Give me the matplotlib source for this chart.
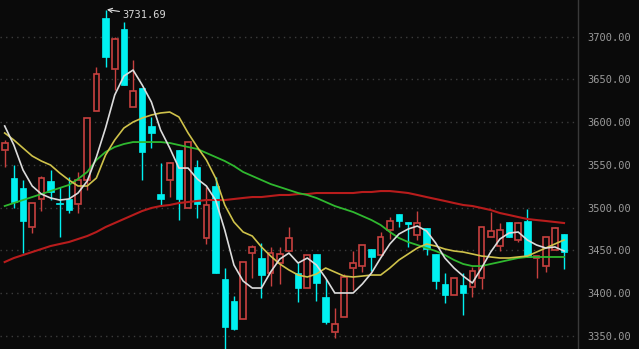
import matplotlib
matplotlib.use("Agg")
import matplotlib.pyplot as plt
import numpy as np

# OHLC (62 sessions)
opens = [3567.5, 3534.8, 3523.0, 3477.4, 3510.2, 3531.3, 3505.0, 3510.2, 3504.4, 3532.4,
         3613.1, 3721.8, 3662.2, 3709.0, 3617.8, 3640.0, 3595.6, 3516.0, 3532.4, 3567.5,
         3499.7, 3547.6, 3464.6, 3525.4, 3416.7, 3390.9, 3369.9, 3447.0, 3441.2, 3423.7,
         3435.4, 3449.4, 3423.7, 3406.1, 3445.9, 3395.6, 3354.7, 3372.2, 3429.5, 3431.8,
         3451.7, 3444.7, 3473.9, 3492.6, 3483.3, 3468.1, 3476.3, 3445.9, 3410.8, 3397.9,
         3409.6, 3407.3, 3417.8, 3465.8, 3455.2, 3483.3, 3462.3, 3484.5, 3441.2, 3431.8,
         3450.6, 3469.3]
highs = [3579.2, 3550.0, 3532.4, 3505.5, 3537.1, 3544.1, 3524.2, 3535.9, 3541.8, 3604.9,
         3664.5, 3731.69, 3699.6, 3717.2, 3672.7, 3640.0, 3606.1, 3552.3, 3553.5, 3567.5,
         3576.8, 3555.8, 3524.2, 3535.9, 3429.5, 3396.8, 3436.5, 3456.4, 3458.7, 3454.1,
         3454.1, 3477.4, 3435.4, 3444.7, 3445.9, 3416.7, 3382.7, 3422.5, 3449.4, 3456.4,
         3451.7, 3471.6, 3489.1, 3492.6, 3483.3, 3496.2, 3476.3, 3445.9, 3423.7, 3417.8,
         3423.7, 3430.7, 3477.4, 3495.0, 3482.1, 3483.3, 3483.3, 3498.5, 3443.5, 3465.8,
         3477.4, 3469.3]
lows = [3547.6, 3499.6, 3447.0, 3470.4, 3496.2, 3509.0, 3465.8, 3493.8, 3493.8, 3520.7,
        3613.1, 3664.5, 3637.7, 3643.5, 3617.8, 3532.4, 3569.8, 3503.2, 3512.5, 3485.6,
        3499.7, 3488.0, 3457.6, 3423.7, 3330.0, 3357.0, 3369.9, 3417.8, 3394.4, 3408.5,
        3410.8, 3449.4, 3389.8, 3406.1, 3390.9, 3364.0, 3347.6, 3372.2, 3403.8, 3424.8,
        3426.0, 3444.7, 3463.4, 3477.4, 3454.1, 3462.3, 3444.7, 3405.0, 3388.6, 3397.9,
        3374.5, 3395.6, 3405.0, 3465.8, 3449.4, 3465.8, 3459.9, 3442.4, 3417.8, 3424.8,
        3450.6, 3428.3]
closes = [3575.7, 3506.7, 3484.5, 3505.5, 3534.8, 3518.4, 3504.0, 3497.3, 3532.4, 3604.9,
          3656.4, 3676.3, 3697.3, 3643.5, 3636.5, 3565.2, 3587.4, 3510.2, 3552.3, 3510.2,
          3576.8, 3504.4, 3503.2, 3423.7, 3360.6, 3358.2, 3436.5, 3454.1, 3421.3, 3447.0,
          3445.9, 3464.6, 3406.1, 3444.7, 3412.0, 3366.4, 3364.0, 3419.0, 3435.4, 3456.4,
          3442.4, 3465.8, 3484.5, 3484.5, 3481.0, 3482.1, 3451.7, 3414.3, 3397.9, 3417.8,
          3400.3, 3426.0, 3477.4, 3472.8, 3473.9, 3465.8, 3482.1, 3442.4, 3443.5, 3465.8,
          3476.3, 3448.2]

# moving average lines
ma5 = [3595.6, 3573.3, 3544.1, 3525.4, 3516.0, 3511.4, 3509.0, 3510.2, 3517.2, 3531.2,
       3559.3, 3593.2, 3631.8, 3654.0, 3661.0, 3643.5, 3623.6, 3590.9, 3569.8, 3546.4,
       3546.4, 3533.6, 3525.4, 3509.0, 3473.9, 3433.0, 3414.3, 3406.1, 3406.1, 3424.8,
       3440.0, 3447.0, 3435.3, 3441.2, 3433.0, 3417.8, 3400.3, 3400.3, 3400.3, 3410.8,
       3423.7, 3441.2, 3457.6, 3469.3, 3475.1, 3478.6, 3472.8, 3458.7, 3441.2, 3429.5,
       3420.1, 3412.0, 3429.5, 3448.2, 3463.4, 3470.4, 3471.6, 3462.2, 3456.4, 3452.9,
       3454.1, 3449.4]
ma10 = [3587.4, 3579.2, 3569.8, 3560.5, 3554.6, 3549.9, 3540.6, 3532.4, 3525.4, 3525.4,
        3534.7, 3561.6, 3579.2, 3593.2, 3600.2, 3604.9, 3608.4, 3610.8, 3611.9, 3606.1,
        3587.4, 3571.0, 3555.8, 3534.7, 3503.2, 3483.3, 3471.6, 3466.9, 3454.1, 3443.5,
        3434.2, 3427.2, 3421.3, 3419.0, 3422.5, 3429.5, 3424.8, 3420.1, 3419.0, 3420.1,
        3421.3, 3421.3, 3429.5, 3438.9, 3445.9, 3452.9, 3457.6, 3455.2, 3451.7, 3449.4,
        3448.2, 3445.9, 3443.5, 3442.4, 3441.2, 3441.2, 3442.4, 3443.5, 3448.2, 3452.9,
        3457.6, 3462.3]
ma20 = [3502.0, 3505.5, 3509.0, 3512.5, 3516.0, 3519.5, 3523.1, 3526.6, 3533.6, 3541.8,
        3555.8, 3565.2, 3571.0, 3574.5, 3576.8, 3576.8, 3576.8, 3576.8, 3575.7, 3573.3,
        3571.0, 3568.7, 3564.0, 3559.3, 3554.6, 3548.8, 3541.8, 3537.1, 3532.4, 3527.7,
        3524.2, 3520.7, 3517.2, 3514.9, 3511.4, 3506.7, 3502.0, 3498.5, 3495.0, 3490.3,
        3485.6, 3479.8, 3471.6, 3464.6, 3459.9, 3456.4, 3452.9, 3449.4, 3444.7, 3438.9,
        3434.2, 3431.8, 3431.8, 3434.2, 3436.5, 3438.9, 3441.2, 3442.4, 3442.4, 3442.4,
        3442.4, 3442.4]
ma60 = [3436.5, 3441.2, 3444.7, 3448.2, 3451.7, 3455.2, 3457.6, 3459.9, 3463.4, 3466.9,
        3471.6, 3477.4, 3482.1, 3486.8, 3491.5, 3496.2, 3499.7, 3502.0, 3503.2, 3505.5,
        3506.7, 3507.9, 3509.0, 3509.0, 3509.0, 3510.2, 3511.4, 3512.5, 3512.5, 3513.7,
        3514.9, 3514.9, 3516.0, 3516.0, 3517.2, 3517.2, 3517.2, 3517.2, 3517.2, 3518.4,
        3518.4, 3519.5, 3519.5, 3518.4, 3517.2, 3514.9, 3512.5, 3510.2, 3507.9, 3505.5,
        3503.2, 3502.0, 3499.7, 3497.3, 3493.8, 3491.5, 3489.1, 3486.8, 3485.6, 3484.5,
        3483.3, 3482.1]

price_ticks = [3350, 3400, 3450, 3500, 3550, 3600, 3650, 3700]

BG = "#0a0a0a"
UP = "#c8413f"
DOWN = "#00f0f0"

fig = plt.figure(figsize=(6.39, 3.49), dpi=100, facecolor=BG)
ax = fig.add_axes([0, 0, 578 / 639, 1], facecolor=BG)

o = np.array(opens)
h = np.array(highs)
l = np.array(lows)
c = np.array(closes)
x = np.arange(len(o))
up = c >= o
bot = np.minimum(o, c)
top = np.maximum(o, c)
hgt = np.maximum(top - bot, 1.0)

# wicks
ax.vlines(x[~up], l[~up], h[~up], color=DOWN, lw=1, zorder=2)
ax.vlines(x[up], top[up], h[up], color=UP, lw=1, zorder=2)
ax.vlines(x[up], l[up], bot[up], color=UP, lw=1, zorder=2)
# bodies: filled cyan for down days, hollow red for up days
ax.bar(x[~up], hgt[~up], bottom=bot[~up], width=0.7, color=DOWN,
       edgecolor=DOWN, lw=0.5, zorder=3)
ax.bar(x[up], hgt[up], bottom=bot[up], width=0.62, facecolor=BG,
       edgecolor=UP, lw=1.2, zorder=3)

# moving averages
ax.plot(x, ma60, color="#b81c1c", lw=1.5, zorder=4)
ax.plot(x, ma20, color="#2fb82f", lw=1.3, zorder=4)
ax.plot(x, ma10, color="#cfc24a", lw=1.2, zorder=4)
ax.plot(x, ma5, color="#dcdcdc", lw=1.2, zorder=4)

# highest price marker
pk = int(np.argmax(h))
ax.annotate(f"{h[pk]:.2f}", xy=(pk + 0.15, h[pk]), xytext=(11, -4),
            textcoords="offset points", ha="left", va="center",
            color="#d8d8d8", fontsize=7.5, family="DejaVu Sans Mono",
            arrowprops=dict(arrowstyle="->", color="#e0e0e0", lw=0.8,
                            shrinkA=0, shrinkB=0))

ax.set_xlim(-0.51, 62.52)
ax.set_ylim(3334.8, 3742.9)
ax.set_xticks([])
ax.yaxis.tick_right()
ax.set_yticks(price_ticks)
ax.set_yticklabels([f"{t:.2f}" for t in price_ticks], family="DejaVu Sans Mono")
ax.tick_params(axis="y", length=0, pad=7, labelcolor="#9a9a9a", labelsize=7.5)
ax.yaxis.grid(True, linestyle=(0, (1, 3)), color="#3c3c3c", lw=1)
ax.set_axisbelow(True)
for side in ["top", "left", "bottom"]:
    ax.spines[side].set_visible(False)
ax.spines["right"].set_color("#3a3a3a")
ax.spines["right"].set_linewidth(1)

fig.savefig("out.png", dpi=100, facecolor=BG)
